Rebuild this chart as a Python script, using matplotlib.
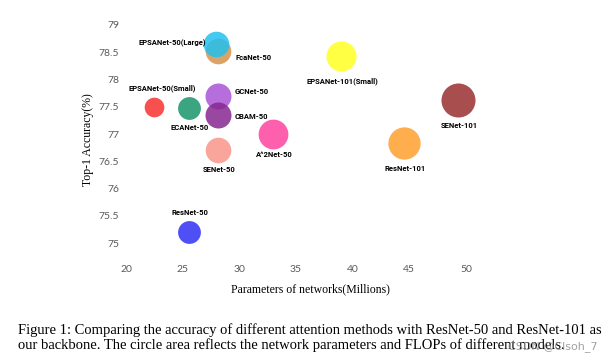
# Bubble chart: accuracy vs parameters for attention modules
import matplotlib.pyplot as plt

models = ["EPSANet-50(Small)", "ECANet-50", "FcaNet-50", "EPSANet-50(Large)",
          "GCNet-50", "CBAM-50", "SENet-50", "A^2Net-50", "ResNet-50",
          "EPSANet-101(Small)", "SENet-101", "ResNet-101"]
params = [22.5, 25.6, 28.1, 27.9, 28.1, 28.1, 28.1, 33.0, 25.6, 39.0, 49.3, 44.5]
acc = [77.49, 77.48, 78.52, 78.64, 77.70, 77.34, 76.71, 77.00, 75.20, 78.43, 77.62, 76.83]
# bubble areas (pt^2) as drawn in the figure
bubble = [200, 270, 340, 340, 350, 350, 340, 460, 270, 470, 600, 540]
colors = ["#f73030", "#17966a", "#d4944f", "#22c0f0", "#a855d6", "#86288f",
          "#f8958a", "#ff449f", "#3030f5", "#ffff22", "#992f2f", "#ffa02e"]

# label offsets in points relative to each bubble, and alignment
offsets = [(6, 14), (0, -14), (13, -5), (-7, 1), (12, 3), (12, -1),
           (1, -14), (1, -15), (0, 14), (1, -18), (1, -18), (1, -18)]
aligns = ["center", "center", "left", "right", "left", "left",
          "center", "center", "center", "center", "center", "center"]

fig = plt.figure(figsize=(6.11, 3.62), dpi=100)
ax = fig.add_axes([0.2029, 0.2873, 0.7136, 0.6713])
ax.set_xlim(19.82, 58.3)
ax.set_ylim(74.73, 79.18)

for i in range(len(models)):
    ax.scatter(params[i], acc[i], s=bubble[i], color=colors[i], alpha=0.85,
               linewidths=0, zorder=2)
    ax.annotate(models[i], (params[i], acc[i]), xytext=offsets[i],
                textcoords="offset points", ha=aligns[i], va="center",
                fontsize=5.5, fontweight="bold", family="Roboto", zorder=3)

ax.set_xticks([20, 25, 30, 35, 40, 45, 50])
ax.set_yticks([75, 75.5, 76, 76.5, 77, 77.5, 78, 78.5, 79])
ax.set_yticklabels(["75", "75.5", "76", "76.5", "77", "77.5", "78", "78.5", "79"])
ax.tick_params(length=0, labelsize=7.5, labelcolor="#595959")
ax.tick_params(axis="y", pad=3.6)
ax.tick_params(axis="x", pad=5)
for lab in ax.get_xticklabels() + ax.get_yticklabels():
    lab.set_family("Lato")
for s in ax.spines.values():
    s.set_visible(False)

ax.set_xlabel("Parameters of networks(Millions)", family="Liberation Serif",
              fontsize=8.5)
ax.set_ylabel("Top-1 Accuracy(%)", family="Liberation Serif", fontsize=8.5)
# place axis labels in figure pixel positions
ax.xaxis.set_label_coords(310 / 611, 1 - 289 / 362, transform=fig.transFigure)
ax.yaxis.set_label_coords(88 / 611, 1 - 140 / 362, transform=fig.transFigure)
ax.xaxis.label.set_va("center")
ax.yaxis.label.set_va("center")

caption = ("Figure 1: Comparing the accuracy of different attention methods with ResNet-50 and ResNet-101 as\n"
           "our backbone. The circle area reflects the network parameters and FLOPs of different models.")
fig.text(18 / 611, 1 - 323 / 362, caption, family="Liberation Serif", fontsize=10.5,
         ha="left", va="top", linespacing=1.17)
# watermark of the source page, drawn over the caption end as in the original
fig.text(598 / 611, 1 - 347 / 362, "CSDN @Clsoh_7", fontsize=8, color="#8a8a8a",
         ha="right", va="center", alpha=0.8)

plt.savefig("out.png", dpi=100)
